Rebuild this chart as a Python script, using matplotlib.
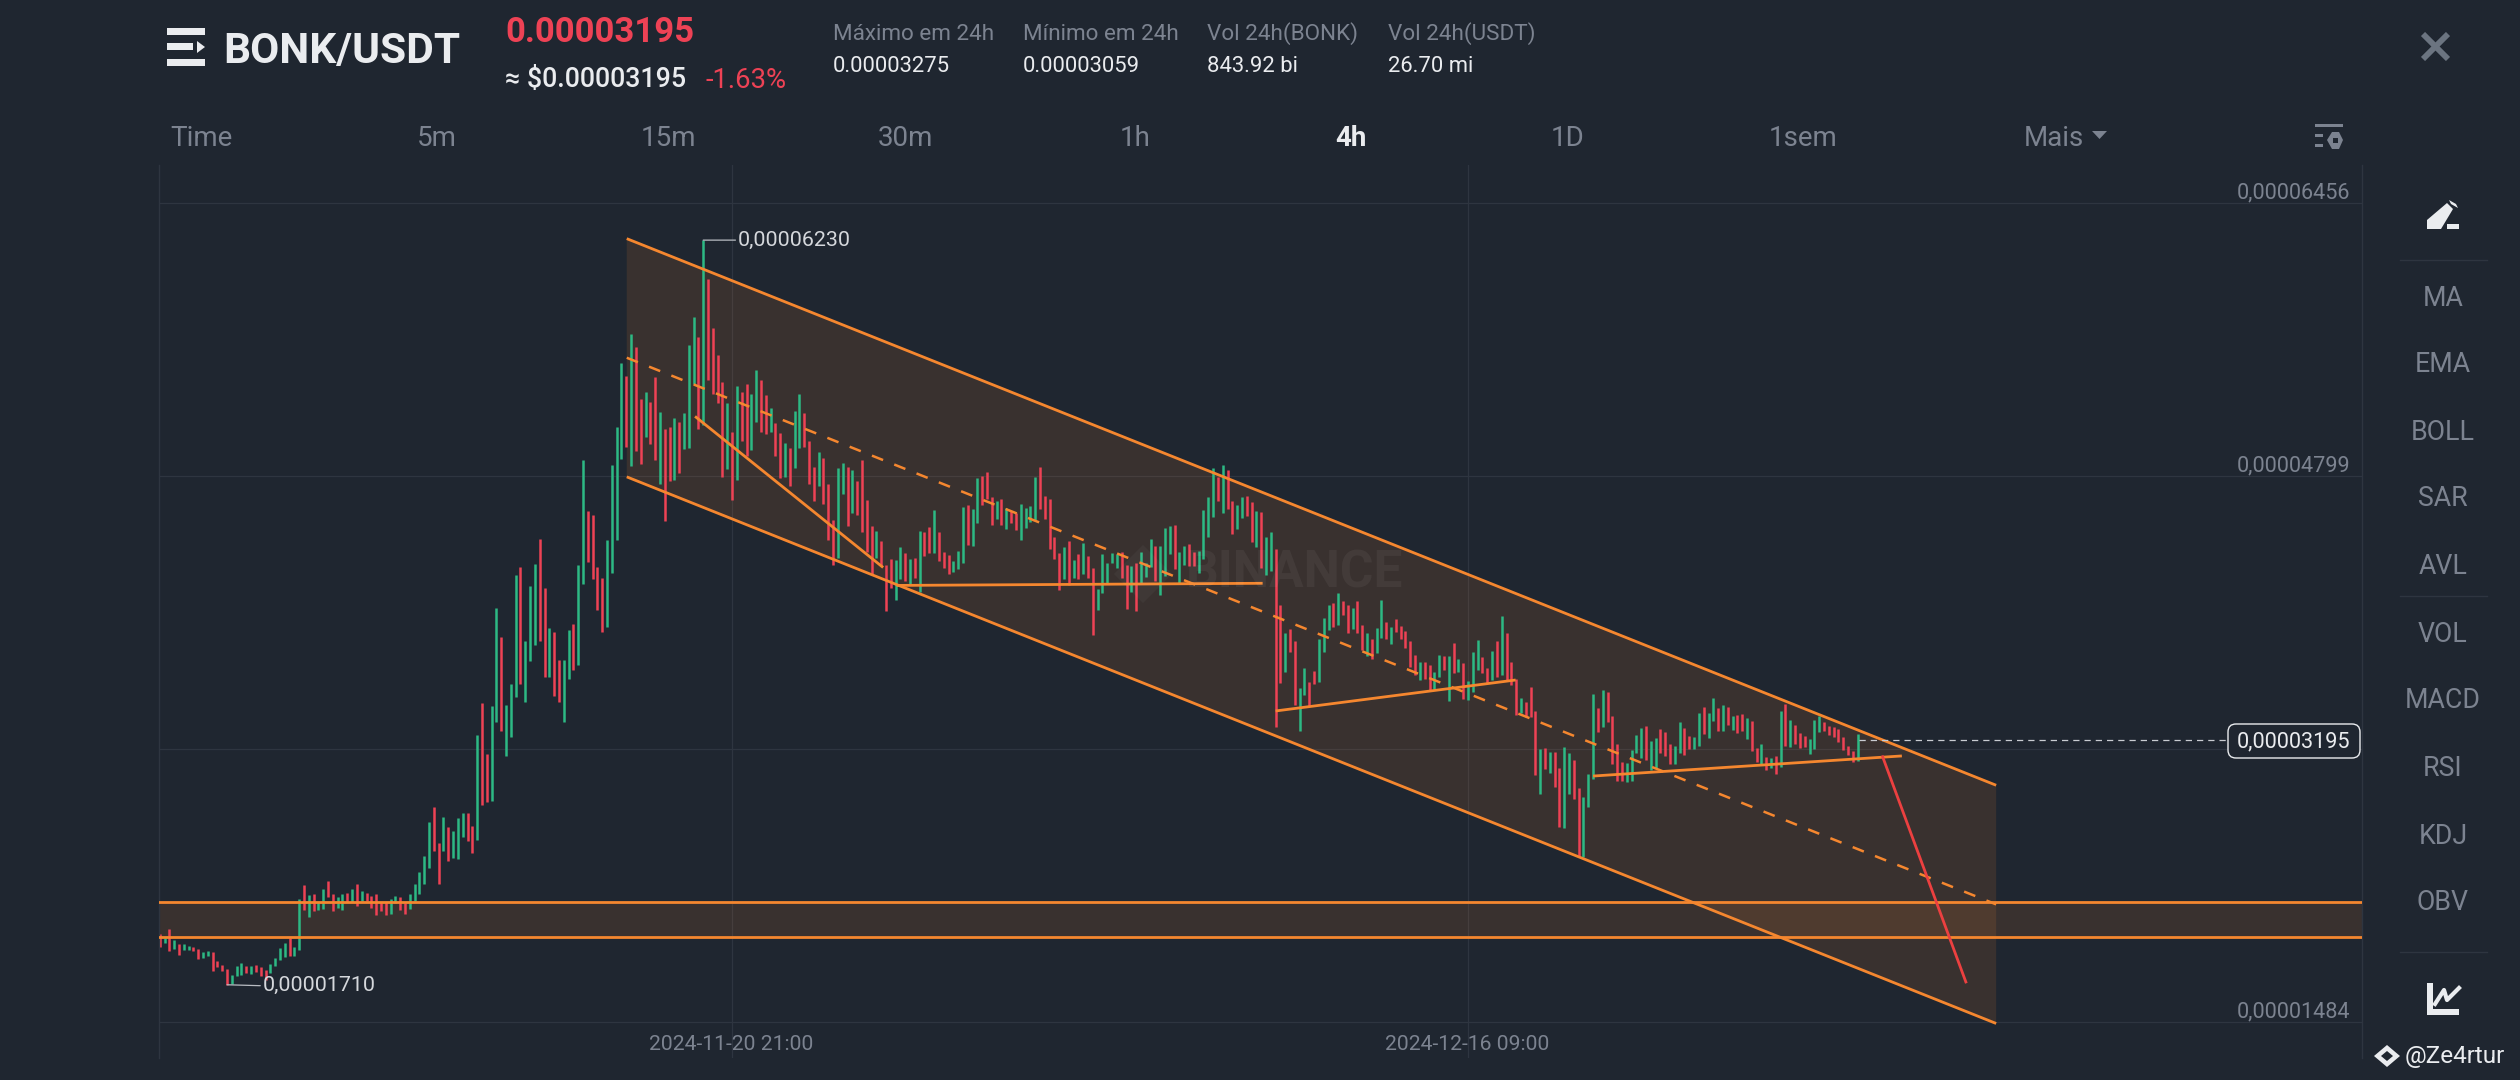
import matplotlib
matplotlib.use('Agg')
import matplotlib.pyplot as plt
from matplotlib.patches import Polygon, Rectangle, FancyBboxPatch

plt.rcParams['font.family'] = ['Roboto', 'DejaVu Sans']

# prices are in units of 1e-8 USDT, one candle per entry
highs = [
    2018, 1992, 2049, 1980, 1960, 1958, 1944, 1941, 1929, 1909,
    1915, 1909, 1852, 1828, 1808, 1770, 1824, 1842, 1826, 1826,
    1832, 1816, 1800, 1838, 1873, 1933, 1964, 1992, 1939, 2231,
    2318, 2255, 2259, 2215, 2294, 2340, 2261, 2245, 2259, 2267,
    2291, 2320, 2279, 2267, 2249, 2261, 2215, 2215, 2231, 2249,
    2245, 2204, 2263, 2322, 2395, 2492, 2698, 2787, 2569, 2730,
    2668, 2646, 2724, 2751, 2755, 2674, 3224, 3421, 3109, 3404,
    3995, 3820, 3408, 3534, 4195, 4243, 3794, 4128, 4266, 4418,
    4119, 3876, 3854, 3681, 3679, 3861, 3898, 4260, 4895, 4585,
    4561, 4243, 4182, 4412, 4867, 5095, 5485, 5405, 5663, 5580,
    5264, 5309, 5246, 5398, 5186, 5084, 5095, 5153, 5123, 5181,
    5591, 5762, 5639, 6230, 5992, 5695, 5532, 5366, 5240, 5066,
    5344, 5311, 5357, 5296, 5439, 5381, 5292, 5209, 5121, 5060,
    4999, 4971, 5192, 5296, 5179, 5008, 4850, 4943, 4910, 4752,
    4531, 4847, 4878, 4852, 4834, 4765, 4897, 4650, 4494, 4462,
    4401, 4256, 4292, 4286, 4370, 4331, 4292, 4301, 4466, 4461,
    4487, 4592, 4459, 4339, 4319, 4281, 4341, 4608, 4623, 4596,
    4786, 4799, 4823, 4669, 4649, 4657, 4602, 4588, 4572, 4629,
    4606, 4616, 4792, 4851, 4677, 4657, 4426, 4329, 4370, 4404,
    4289, 4323, 4390, 4313, 4238, 4115, 4325, 4273, 4329, 4325,
    4337, 4256, 4252, 4273, 4339, 4273, 4414, 4374, 4374, 4481,
    4495, 4501, 4339, 4374, 4386, 4339, 4343, 4592, 4669, 4845,
    4794, 4865, 4835, 4647, 4620, 4673, 4677, 4643, 4586, 4580,
    4430, 4461, 4355, 4016, 3844, 3868, 3797, 3510, 3635, 3546,
    3617, 3811, 3939, 4016, 4028, 4086, 4040, 4016, 3999, 4040,
    3892, 3844, 3811, 3878, 4046, 3912, 3884, 3931, 3886, 3860,
    3795, 3710, 3667, 3669, 3653, 3607, 3712, 3706, 3706, 3783,
    3690, 3661, 3554, 3732, 3801, 3698, 3635, 3738, 3795, 3949,
    3843, 3669, 3564, 3449, 3427, 3516, 3374, 3139, 3145, 3123,
    3125, 3024, 3153, 3119, 3075, 2903, 2852, 2990, 3477, 3390,
    3499, 3485, 3342, 3172, 3062, 3054, 3135, 3226, 3271, 3281,
    3192, 3210, 3261, 3245, 3172, 3162, 3303, 3269, 3222, 3212,
    3362, 3394, 3358, 3451, 3390, 3406, 3394, 3342, 3346, 3354,
    3327, 3309, 3145, 3170, 3093, 3089, 3097, 3374, 3415, 3317,
    3289, 3237, 3222, 3200, 3317, 3340, 3305, 3279, 3275, 3265,
    3212, 3158, 3129, 3230,
]
lows = [
    1941, 1962, 1915, 1927, 1889, 1921, 1921, 1917, 1867, 1875,
    1887, 1794, 1816, 1794, 1710, 1715, 1765, 1772, 1784, 1776,
    1790, 1763, 1739, 1780, 1824, 1861, 1881, 1887, 1887, 1921,
    2164, 2124, 2160, 2164, 2168, 2245, 2158, 2178, 2164, 2213,
    2215, 2188, 2221, 2221, 2176, 2132, 2160, 2136, 2138, 2204,
    2164, 2140, 2170, 2221, 2261, 2320, 2421, 2522, 2322, 2522,
    2461, 2478, 2474, 2609, 2583, 2512, 2589, 2803, 2817, 2826,
    3302, 3252, 3100, 3215, 3456, 3538, 3427, 3675, 3772, 3798,
    3581, 3581, 3464, 3425, 3306, 3564, 3620, 3653, 4141, 4277,
    4175, 3982, 3850, 3880, 4210, 4412, 4899, 4973, 4858, 4949,
    4869, 5036, 4995, 4897, 4752, 4527, 4769, 4776, 4819, 4964,
    4967, 5355, 5086, 5105, 5383, 5298, 5244, 4791, 4841, 4654,
    4776, 5012, 4921, 4956, 5123, 5064, 5056, 5064, 4921, 4787,
    4791, 4735, 4847, 4971, 4973, 4748, 4646, 4735, 4628, 4412,
    4256, 4301, 4687, 4496, 4574, 4563, 4459, 4336, 4206, 4303,
    4249, 3978, 4119, 4043, 4171, 4162, 4141, 4177, 4097, 4313,
    4333, 4333, 4283, 4238, 4204, 4214, 4234, 4268, 4380, 4376,
    4515, 4625, 4657, 4503, 4538, 4499, 4479, 4511, 4469, 4410,
    4483, 4517, 4531, 4600, 4536, 4358, 4295, 4105, 4171, 4137,
    4177, 4173, 4204, 4179, 3834, 3985, 4090, 4151, 4268, 4238,
    4177, 3989, 4097, 3977, 4147, 4184, 4248, 4163, 4078, 4192,
    4325, 4236, 4147, 4256, 4252, 4252, 4212, 4297, 4426, 4552,
    4645, 4576, 4598, 4447, 4475, 4542, 4556, 4396, 4366, 4240,
    4200, 4224, 3273, 3544, 3611, 3732, 3409, 3253, 3469, 3405,
    3536, 3548, 3732, 3864, 3880, 3894, 3955, 3844, 3868, 3844,
    3743, 3706, 3690, 3726, 3817, 3811, 3779, 3852, 3811, 3756,
    3641, 3590, 3560, 3568, 3495, 3503, 3576, 3621, 3435, 3605,
    3611, 3443, 3439, 3489, 3621, 3601, 3544, 3560, 3580, 3590,
    3560, 3532, 3348, 3362, 3338, 3334, 2986, 2868, 3018, 2994,
    2909, 2670, 2664, 2868, 2840, 2488, 2488, 2791, 2957, 3245,
    3277, 3307, 3050, 2949, 2949, 2943, 2949, 3115, 3085, 3075,
    3014, 3024, 3115, 3101, 3048, 3050, 3119, 3107, 3139, 3143,
    3160, 3232, 3208, 3309, 3253, 3253, 3285, 3257, 3240, 3253,
    3204, 3131, 3064, 3050, 3014, 3028, 2990, 3034, 3160, 3156,
    3172, 3148, 3152, 3113, 3141, 3247, 3253, 3226, 3216, 3186,
    3137, 3103, 3061, 3069,
]
# G = up candle, R = down candle
directions = (
    "RGRGRGGRRG" "GRRRRGGGRG" "RRRGGGGRGG" "RGRGGRRGGR" "GRGRRRRRGG"
    "RRGGGGGRRG" "RGGGRRGRRG" "GRGGGRGGGR" "RGRRGGRGGR" "RRRGGGGRGR"
    "RGRRGRRGRG" "GGRGRRRRGR" "GRRGGRRGRR" "GRGGRRRGRR" "RGGRGRRRRG"
    "RRRGGRGRGR" "RGRRRGGGRG" "GRRRGRGRRG" "GGGRRRRRGR" "GRGRRGGGGG"
    "RRGRGGGRGG" "GRGGRRGGGG" "RGRRGGRRGR" "GGRRGRRGGR" "RGGGRGRRGR"
    "RGRGGRGRRR" "RRGRRGGRGR" "GRGGGRRGRG" "RRRGRRRGRG" "RRGGRRGGGR"
    "GRRRRGGGGR" "GGRRRGGRRG" "GRGGRGRGRR" "GRRGRGRGRG" "RRRGGGRRRR"
    "RRRG"
)

price_ticks = [1484, 3141, 4799, 6456]
price_labels = ['0,00001484', '0,00003141', '0,00004799', '0,00006456']
date_ticks = [119, 272]
date_labels = ['2024-11-20 21:00', '2024-12-16 09:00']
last_price = 3195

# drawings on the chart as (candle index, price)
channel_top = [(97.1, 6239), (381.8, 2921)]
channel_mid = [(97.1, 5516), (381.8, 2198)]
channel_bottom = [(97.1, 4793), (381.8, 1475)]
zone_prices = [2000, 2214]
trend_lines = [
    [(111.3, 5160), (150.4, 4243)],
    [(153.2, 4134), (229.3, 4147)],
    [(232.0, 3372), (281.9, 3560)],
    [(298.0, 2977), (362.2, 3099)],
]
target_line = [(358.2, 3094), (375.5, 1727)]

timeframes = ['5m', '15m', '30m', '1h', '4h', '1D', '1sem']
timeframe_x = [437, 668, 905, 1135, 1351, 1568, 1803]
indicators = ['MA', 'EMA', 'BOLL', 'SAR', 'AVL', 'VOL', 'MACD', 'RSI', 'KDJ', 'OBV']
indicator_y = [298, 365, 433, 499, 566, 634, 701, 769, 836, 903]

bg_color = '#1F2630'
grid_color = '#2E3540'
up_color = '#2DB984'
down_color = '#EE4255'
orange = '#F5872F'
muted = '#7C8390'
white = '#EAECEF'

W, H = 2520, 1080
fig = plt.figure(figsize=(W / 100, H / 100), dpi=100, facecolor=bg_color)

# chart area
left, right, top, bottom = 158.7, 2362, 165, 1058
ax = fig.add_axes([left / W, 1 - bottom / H, (right - left) / W, (bottom - top) / H])
ax.set_facecolor(bg_color)
ax.set_xlim((left - 159.7) / 4.81, (right - 159.7) / 4.81)
ax.set_ylim(1484 - (bottom - 1022) * 6.07, 1484 + (1022 - top) * 6.07)

for name, spine in ax.spines.items():
    spine.set_visible(name in ('left', 'right'))
    spine.set_color(grid_color)
    spine.set_linewidth(1.0)
ax.set_yticks(price_ticks)
ax.set_xticks(date_ticks)
ax.tick_params(length=0, labelleft=False, labelbottom=False)
ax.grid(True, color=grid_color, linewidth=0.9, zorder=0)
ax.set_axisbelow(True)

for p, label_text in zip(price_ticks, price_labels):
    ax.annotate(label_text, xy=(1, p), xycoords=ax.get_yaxis_transform(),
                xytext=(-12, 10), textcoords='offset pixels',
                ha='right', va='center', fontsize=15.6, color=muted)
for d, label_text in zip(date_ticks, date_labels):
    ax.annotate(label_text, xy=(d, 0), xycoords=ax.get_xaxis_transform(),
                xytext=(-1, 14), textcoords='offset pixels',
                ha='center', va='center', fontsize=15.2, color=muted)

# zone and channel fills
ax.axhspan(zone_prices[0], zone_prices[1], color=orange, alpha=0.12, linewidth=0, zorder=1)
channel_poly = [channel_top[0], channel_top[1], channel_bottom[1], channel_bottom[0]]
ax.add_patch(Polygon(channel_poly, closed=True, facecolor=orange, alpha=0.12, linewidth=0, zorder=1))

# candles
for i in range(len(highs)):
    c = up_color if directions[i] == 'G' else down_color
    ax.vlines(i, lows[i], highs[i], color=c, linewidth=1.8, zorder=2)

# orange drawings
for p in zone_prices:
    ax.axhline(p, color=orange, linewidth=2.0, zorder=3)
for line in [channel_top, channel_bottom] + trend_lines:
    ax.plot([line[0][0], line[1][0]], [line[0][1], line[1][1]], color=orange,
            linewidth=2.0, solid_capstyle='butt', zorder=3)
ax.plot([channel_mid[0][0], channel_mid[1][0]], [channel_mid[0][1], channel_mid[1][1]],
        color=orange, linewidth=1.8, linestyle=(0, (4.8, 4.8)), zorder=3)
ax.plot([target_line[0][0], target_line[1][0]], [target_line[0][1], target_line[1][1]],
        color='#EC4040', linewidth=2.0, zorder=3)

# last price line
ax.plot([353.2, (2227 - 159.7) / 4.81], [last_price, last_price], color='#C9CCD1',
        linewidth=0.9, linestyle=(0, (5, 4)), zorder=3)

# high and low marks
ax.annotate('0,00006230', xy=(113, 6230), xytext=(35, 0), textcoords='offset pixels',
            ha='left', va='center', fontsize=15.4, color='#D5D8DC', zorder=4,
            arrowprops=dict(arrowstyle='-', color='#B8BCC2', linewidth=0.9,
                            shrinkA=0, shrinkB=0, relpos=(0, 0.5)))
ax.annotate('0,00001710', xy=(14, 1710), xytext=(36, -1), textcoords='offset pixels',
            ha='left', va='center', fontsize=15.4, color='#D5D8DC', zorder=4,
            arrowprops=dict(arrowstyle='-', color='#B8BCC2', linewidth=0.9,
                            shrinkA=0, shrinkB=0, relpos=(0, 0.5)))

# overlay in pixel coordinates for the app interface
ui = fig.add_axes([0, 0, 1, 1], zorder=5)
ui.set_xlim(0, W)
ui.set_ylim(H, 0)
ui.axis('off')


def label(x, y, s, size, color=muted, ha='left', weight='normal'):
    ui.text(x, y, s, fontsize=size, color=color, ha=ha, va='center', fontweight=weight)


# header
for y0 in (28, 59):
    ui.add_patch(Rectangle((167, y0), 38, 7, color=white, linewidth=0))
ui.add_patch(Rectangle((167, 43), 26, 7, color=white, linewidth=0))
ui.add_patch(Polygon([(197, 41), (205, 47), (197, 53)], color=white, linewidth=0))
label(223, 51, 'BONK/USDT', 30.5, white, weight='bold')
label(505, 33, '0.00003195', 25, down_color, weight='bold')
label(505, 79, '≈ $0.00003195', 19.3, white, weight='medium')
label(706, 80, '-1.63%', 19.8, down_color)
stat_x = [833, 1023, 1207, 1388]
stat_titles = ['Máximo em 24h', 'Mínimo em 24h', 'Vol 24h(BONK)', 'Vol 24h(USDT)']
stat_values = ['0.00003275', '0.00003059', '843.92 bi', '26.70 mi']
for x, t, v in zip(stat_x, stat_titles, stat_values):
    label(x, 34, t, 16.2, muted)
    label(x, 67, v, 15.8, white)
ui.plot([2423, 2448], [34, 59], color='#6B7480', linewidth=4.2, solid_capstyle='butt')
ui.plot([2423, 2448], [59, 34], color='#6B7480', linewidth=4.2, solid_capstyle='butt')

# timeframe row
label(170, 139, 'Time', 20, muted)
for x, t in zip(timeframe_x, timeframes):
    if t == '4h':
        label(x, 139, t, 20, white, ha='center', weight='bold')
    else:
        label(x, 139, t, 20, muted, ha='center')
label(2024, 139, 'Mais', 20, muted)
ui.add_patch(Polygon([(2092, 131), (2107, 131), (2099.5, 139)], color=muted, linewidth=0))
ui.add_patch(Rectangle((2315, 124), 28, 3, color=muted, linewidth=0))
ui.add_patch(Rectangle((2315, 134), 8, 3, color=muted, linewidth=0))
ui.add_patch(Rectangle((2315, 144), 8, 3, color=muted, linewidth=0))
ui.add_patch(Polygon([(2327, 140), (2332, 132), (2339, 132), (2343, 140), (2339, 149), (2332, 149)],
                     color=muted, linewidth=0))
ui.add_patch(Rectangle((2333, 138), 5, 5, color=bg_color, linewidth=0))

# right sidebar
for t, y in zip(indicators, indicator_y):
    label(2443, y, t, 19.3, muted, ha='center')
for y in (260, 596, 952):
    ui.plot([2400, 2487], [y, y], color=grid_color, linewidth=1)
ui.add_patch(Polygon([(2427, 229), (2427, 220), (2447, 203), (2453, 209), (2441, 229)],
                     color=white, linewidth=0))
ui.add_patch(Rectangle((2447, 224), 12, 5, color=white, linewidth=0))
ui.add_patch(Polygon([(2449, 200), (2456, 204), (2458, 208), (2451, 204)], color=white, linewidth=0))
ui.add_patch(Polygon([(2427, 983), (2433, 983), (2433, 1009), (2459, 1009), (2459, 1015), (2427, 1015)],
                     color=white, linewidth=0))
ui.plot([2435, 2444, 2447, 2459], [1004, 990, 1000, 988], color=white, linewidth=3)

# last price tag
tag = FancyBboxPatch((2233, 729), 122, 24, boxstyle='round,pad=5,rounding_size=8',
                     facecolor=bg_color, edgecolor=white, linewidth=1)
ui.add_patch(tag)
label(2294, 742, '0,00003195', 15.6, white, ha='center')

# exchange watermark
ui.add_patch(Polygon([(1143, 545), (1172, 574), (1143, 603), (1114, 574)], color='white',
                     alpha=0.035, linewidth=0))
ui.text(1186, 574, 'BINANCE', fontsize=37, color='white', alpha=0.05, fontweight='bold',
        ha='left', va='center')

# author tag
ui.add_patch(Polygon([(2387, 1045), (2400, 1056), (2387, 1067), (2374, 1056)], color=white, linewidth=0))
ui.add_patch(Polygon([(2387, 1051), (2393, 1056), (2387, 1061), (2381, 1056)], color=bg_color, linewidth=0))
label(2405, 1057, '@Ze4rtur', 17.5, white)

plt.savefig('out.png', dpi=100, facecolor=bg_color)
